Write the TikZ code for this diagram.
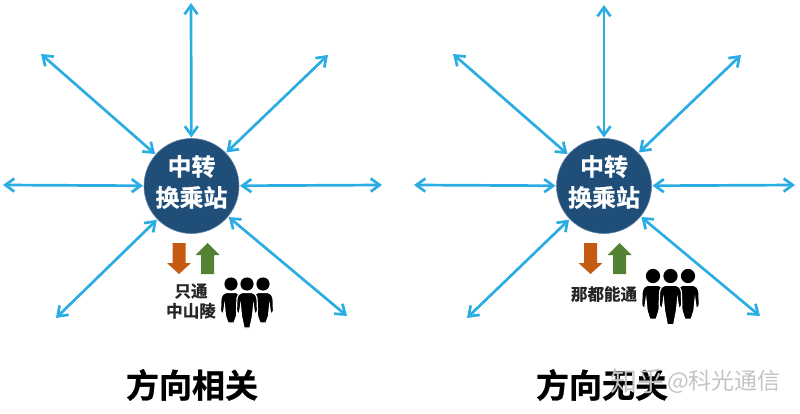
\documentclass[tikz,border=0pt]{standalone}
\usepackage{fontspec}
\setmainfont{Noto Sans CJK SC}[BoldFont={Noto Sans CJK SC Bold},BoldFeatures={FakeBold=0.8}]
\usetikzlibrary{arrows.meta}
\definecolor{linkblue}{HTML}{2BACE2}
\definecolor{hubblue}{HTML}{1F4E79}
\definecolor{downorange}{HTML}{C55A11}
\definecolor{upgreen}{HTML}{548235}
\definecolor{markgray}{HTML}{C4C4C4}
\tikzset{
  hub/.style={circle,fill=hubblue,draw=hubblue!70,line width=.6pt,minimum size=95pt,inner sep=0pt,outer sep=1pt},
  hubtext/.style={text=white,align=center,inner sep=0pt,font=\fontsize{24}{31}\selectfont\bfseries},
  link/.style={draw=linkblue,line width=2.7pt,{Straight Barb[length=9pt,width=13pt,line width=2.7pt]}-{Straight Barb[length=9pt,width=13pt,line width=2.7pt]}},
  titletext/.style={font=\fontsize{33}{36}\selectfont\bfseries,text=black,inner sep=0pt},
  notetext/.style={font=\fontsize{16.5}{20}\selectfont\bfseries,text=black!85,align=center,inner sep=0pt},
  marktext/.style={text=markgray,inner sep=0pt},
}
\newcommand{\downarrowblock}[2]{\fill[downorange] ({#1-6.5},{#2}) -- ({#1+6.5},{#2}) -- ({#1+6.5},{#2+20}) -- ({#1+12},{#2+20}) -- ({#1},{#2+31}) -- ({#1-12},{#2+20}) -- ({#1-6.5},{#2+20}) -- cycle;}
\newcommand{\uparrowblock}[2]{\fill[upgreen] ({#1-6.5},{#2+31}) -- ({#1+6.5},{#2+31}) -- ({#1+6.5},{#2+12}) -- ({#1+12},{#2+12}) -- ({#1},{#2}) -- ({#1-12},{#2+12}) -- ({#1-6.5},{#2+12}) -- cycle;}
% head x, head y, scale, foot depth
\newcommand{\oneperson}[4]{%
  \begin{scope}[shift={(#1,#2)},scale=#3]
  \fill[black] (0,0) circle[radius=6.6];
  \filldraw[fill=black,draw=white,line width=1.2pt] (-5,8.5) -- (5,8.5)
    .. controls (8,9.5) and (9.5,11) .. (10,14)
    -- (10.5,27) -- (7.8,31) -- (6.5,22)
    -- (5.5,32) -- (3,#4) -- (-3,#4) -- (-5.5,32)
    -- (-6.5,22) -- (-7.8,31) -- (-10.5,27) -- (-10,14)
    .. controls (-9.5,11) and (-8,9.5) .. (-5,8.5) -- cycle;
  \end{scope}}
\begin{document}
\begin{tikzpicture}[x=1pt,y=-1pt]
\useasboundingbox (0,0) rectangle (800,414);
\node[hub] (hubL) at (191.5,186) {};
\node[hubtext] (hubLt) at (191.5,182) {中转\\换乘站};
\coordinate (ln) at (191,3);
\coordinate (lne) at (328,55);
\coordinate (le) at (382,185);
\coordinate (lse) at (347,316);
\coordinate (lsw) at (56,318);
\coordinate (lw) at (3,185);
\coordinate (lnw) at (41,54);
\foreach \c in {ln,lne,le,lse,lsw,lw,lnw} \draw[link] (hubL) -- (\c);
\node[hub] (hubR) at (604,186) {};
\node[hubtext] (hubRt) at (604,182) {中转\\换乘站};
\coordinate (rn) at (604,5);
\coordinate (rne) at (741,55);
\coordinate (re) at (795,185);
\coordinate (rse) at (760,316);
\coordinate (rsw) at (467,318);
\coordinate (rw) at (414,185);
\coordinate (rnw) at (453,54);
\foreach \c in {rn,rne,re,rse,rsw,rw,rnw} \draw[link] (hubR) -- (\c);
\downarrowblock{179}{243}
\uparrowblock{207.5}{243}
\downarrowblock{590.5}{243}
\uparrowblock{619.5}{243}
\oneperson{231}{284}{1}{39}
\oneperson{263}{284}{1}{39}
\oneperson{247}{284}{1}{44}
\oneperson{653}{276}{1.08}{40}
\oneperson{688}{276}{1.08}{40}
\oneperson{670.5}{276}{1.08}{45}
\node[notetext] (noteL) at (191,301) {只通\\中山陵};
\node[notetext] (noteR) at (604,294) {那都能通};
\node[titletext] (titleL) at (192,385) {方向相关};
\node[titletext] (titleR) at (602,385) {方向无关};
\node[marktext,font=\fontsize{27}{29}\selectfont] (markA) at (637,381) {知乎};
\node[marktext,font=\fontsize{23}{25}\selectfont] (markB) at (724,382) {@科光通信};
\end{tikzpicture}
\end{document}
